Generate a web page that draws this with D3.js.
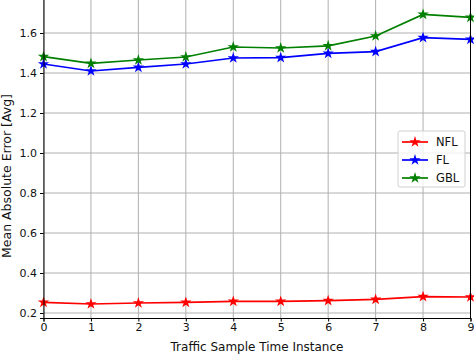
<!DOCTYPE html>
<html>
<head>
<meta charset="utf-8">
<script src="https://cdn.jsdelivr.net/npm/d3@7"></script>
<style>
  body { margin: 0; background: #fff; }
  svg { display: block; font-family: "DejaVu Sans", sans-serif; }
</style>
</head>
<body>
<svg id="drawing_region"></svg>
<script>
const instances = [0, 1, 2, 3, 4, 5, 6, 7, 8, 9];
const nfl = [0.253, 0.245, 0.250, 0.253, 0.258, 0.258, 0.262, 0.268, 0.282, 0.280];
const fl  = [1.445, 1.410, 1.428, 1.445, 1.475, 1.477, 1.498, 1.507, 1.577, 1.568];
const gbl = [1.482, 1.448, 1.465, 1.480, 1.530, 1.525, 1.536, 1.585, 1.693, 1.678];
const yTicks = [0.2, 0.4, 0.6, 0.8, 1.0, 1.2, 1.4, 1.6];
const seriesNames = ['NFL', 'FL', 'GBL'];
const seriesColors = ['#ff0000', '#0000ff', '#008000'];

const config = {
    width: 474,
    height: 355,
    margin: {top: -7, right: 3.5, bottom: 37, left: 43.5}
};

const svg = d3.select('#drawing_region')
    .attr('width', config.width)
    .attr('height', config.height);

const inner_w = config.width - config.margin.left - config.margin.right;
const inner_h = config.height - config.margin.top - config.margin.bottom;

const chart = svg.append('g')
    .attr('transform', `translate(${config.margin.left}, ${config.margin.top})`);

const x = d3.scaleLinear().domain([0, 9]).range([0, inner_w]);
const y = d3.scaleLinear().domain([0.175, 1.8]).range([inner_h, 0]);

// grid
chart.append('g')
    .selectAll('line.vg')
    .data(instances)
    .enter().append('line')
    .attr('x1', d => x(d)).attr('x2', d => x(d))
    .attr('y1', 0).attr('y2', inner_h)
    .attr('stroke', '#b0b0b0').attr('stroke-width', 1);

chart.append('g')
    .selectAll('line.hg')
    .data(yTicks)
    .enter().append('line')
    .attr('x1', 0).attr('x2', inner_w)
    .attr('y1', d => y(d)).attr('y2', d => y(d))
    .attr('stroke', '#b0b0b0').attr('stroke-width', 1);

// lines
const allSeries = [nfl, fl, gbl];
const line = d3.line()
    .x((d, i) => x(instances[i]))
    .y(d => y(d));
const star = d3.symbol().type(d3.symbolStar).size(40);

allSeries.forEach((vals, k) => {
    chart.append('path')
        .datum(vals)
        .attr('d', line)
        .attr('fill', 'none')
        .attr('stroke', seriesColors[k])
        .attr('stroke-width', 1.7);
    chart.selectAll('.m' + k)
        .data(vals)
        .enter().append('path')
        .attr('class', 'm' + k)
        .attr('d', star)
        .attr('transform', (d, i) => `translate(${x(instances[i])}, ${y(d)})`)
        .attr('fill', seriesColors[k]);
});

// axes
const xAxis = d3.axisBottom(x).tickValues(instances).tickFormat(d3.format('d')).tickSize(3.5).tickPadding(2);
const yAxis = d3.axisLeft(y).tickValues(yTicks).tickFormat(d3.format('.1f')).tickSize(3.5).tickPadding(3);

const gx = chart.append('g')
    .attr('transform', `translate(0, ${inner_h})`)
    .call(xAxis);
const gy = chart.append('g').call(yAxis);

[gx, gy].forEach(g => {
    g.select('.domain').attr('stroke', '#000').attr('stroke-width', 1);
    g.selectAll('.tick line').attr('stroke', '#000');
    g.selectAll('.tick text').attr('font-size', '11px').attr('fill', '#111').attr('font-family', '"DejaVu Sans", sans-serif');
});

// top / right spines
chart.append('line')
    .attr('x1', inner_w).attr('x2', inner_w)
    .attr('y1', 0).attr('y2', inner_h)
    .attr('stroke', '#000').attr('stroke-width', 1);
chart.append('line')
    .attr('x1', 0).attr('x2', inner_w)
    .attr('y1', 0).attr('y2', 0)
    .attr('stroke', '#000').attr('stroke-width', 1);

// axis labels
svg.append('text')
    .attr('x', 257)
    .attr('y', 351)
    .attr('text-anchor', 'middle')
    .attr('font-size', '12px')
    .attr('fill', '#111')
    .text('Traffic Sample Time Instance');

svg.append('text')
    .attr('transform', 'translate(11, 176) rotate(-90)')
    .attr('text-anchor', 'middle')
    .attr('font-size', '12.5px')
    .attr('fill', '#111')
    .text('Mean Absolute Error [Avg]');

// legend
const legend = svg.append('g').attr('transform', 'translate(398, 131)');
legend.append('rect')
    .attr('width', 67).attr('height', 56)
    .attr('rx', 2)
    .attr('fill', '#fff').attr('fill-opacity', 0.8)
    .attr('stroke', '#d0d0d0').attr('stroke-width', 1);

seriesNames.forEach((name, k) => {
    const ly = 11 + k * 18;
    legend.append('line')
        .attr('x1', 4).attr('x2', 30)
        .attr('y1', ly).attr('y2', ly)
        .attr('stroke', seriesColors[k]).attr('stroke-width', 1.7);
    legend.append('path')
        .attr('d', star)
        .attr('transform', `translate(17, ${ly})`)
        .attr('fill', seriesColors[k]);
    legend.append('text')
        .attr('x', 38).attr('y', ly + 4)
        .attr('font-size', '11.5px')
        .attr('fill', '#111')
        .text(name);
});
</script>
</body>
</html>
